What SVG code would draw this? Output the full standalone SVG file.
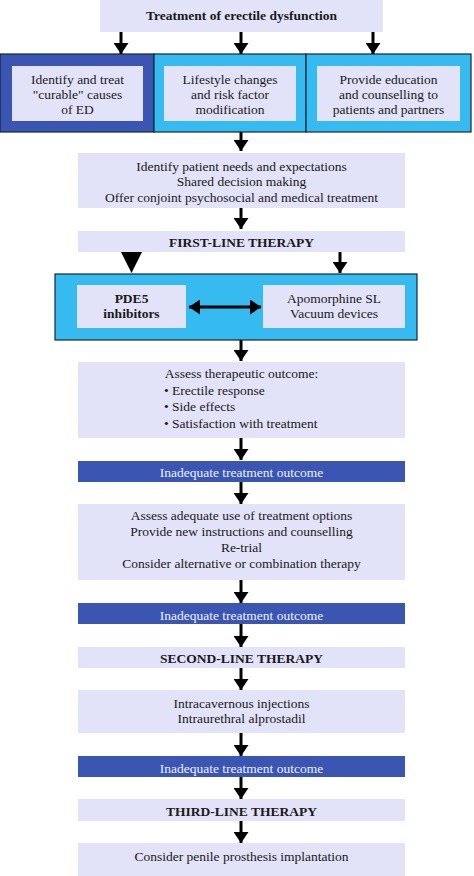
<svg xmlns="http://www.w3.org/2000/svg" width="474" height="876" viewBox="0 0 474 876">
<defs>
<style>
text{font-family:"Liberation Serif","Times New Roman",serif;font-size:13.5px;fill:#1a1a1a;text-anchor:middle}
.b{font-weight:bold}
.w{fill:#eef0ff}
.l{text-anchor:start}
.lav{fill:#e2e2f8}
.dk{fill:#3b55b3}
.cy{fill:#35bbef}
.edge{stroke:#15263a;stroke-width:1.2}
.arr{stroke:#000;stroke-width:3;fill:none;marker-end:url(#ah)}
</style>
<marker id="ah" viewBox="0 0 11 15" markerWidth="11" markerHeight="15" refX="11" refY="7.5" orient="auto-start-reverse" markerUnits="userSpaceOnUse">
<path d="M0,0 L11,7.5 L0,15 z" fill="#000"/>
</marker>
</defs>
<rect width="474" height="876" fill="#fff"/>

<g id="n-top">
<rect class="lav" x="100" y="0" width="283" height="32"/>
<text class="b" x="241.5" y="20">Treatment of erectile dysfunction</text>
</g>

<g id="n-curable">
<rect class="dk edge" x="0" y="54" width="154" height="78"/>
<rect class="lav" x="12" y="66" width="131" height="55"/>
<text x="77.5" y="83.5">Identify and treat</text>
<text x="77.5" y="98.5">"curable" causes</text>
<text x="77.5" y="113.5">of ED</text>
</g>
<g id="n-lifestyle">
<rect class="cy edge" x="154" y="54" width="152" height="78"/>
<rect class="lav" x="164" y="66" width="132" height="55"/>
<text x="230" y="83.5">Lifestyle changes</text>
<text x="230" y="98.5">and risk factor</text>
<text x="230" y="113.5">modification</text>
</g>
<g id="n-education">
<rect class="cy edge" x="306" y="54" width="165" height="78"/>
<rect class="lav" x="317" y="66" width="143" height="55"/>
<text x="388.5" y="83.5">Provide education</text>
<text x="388.5" y="98.5">and counselling to</text>
<text x="388.5" y="113.5">patients and partners</text>
</g>

<g id="n-needs">
<rect class="lav" x="78" y="153" width="327" height="55"/>
<text x="241.5" y="170.5">Identify patient needs and expectations</text>
<text x="241.5" y="186">Shared decision making</text>
<text x="241.5" y="201.5">Offer conjoint psychosocial and medical treatment</text>
</g>

<g id="n-first">
<rect class="lav" x="78" y="231" width="327" height="21"/>
<text class="b" x="241.5" y="246.5">FIRST-LINE THERAPY</text>
</g>

<g id="n-firstline-box">
<rect class="cy edge" x="55" y="274" width="362" height="66"/>
</g>
<g id="n-pde5">
<rect class="lav" x="77" y="285" width="109" height="43"/>
<text class="b" x="131.5" y="302.5">PDE5</text>
<text class="b" x="131.5" y="317.5">inhibitors</text>
</g>
<g id="n-apo">
<rect class="lav" x="263" y="285" width="142" height="43"/>
<text x="334" y="302.5">Apomorphine SL</text>
<text x="334" y="317.5">Vacuum devices</text>
</g>

<g id="n-assess">
<rect class="lav" x="78" y="362" width="327" height="76"/>
<text x="241.5" y="377.5">Assess therapeutic outcome:</text>
<text class="l" x="164" y="394.5">• Erectile response</text>
<text class="l" x="164" y="411">• Side effects</text>
<text class="l" x="164" y="427.5">• Satisfaction with treatment</text>
</g>

<g id="n-inad1">
<rect class="dk" x="78" y="461" width="327" height="21"/>
<text class="w" x="241.5" y="477">Inadequate treatment outcome</text>
</g>

<g id="n-adequate">
<rect class="lav" x="78" y="504" width="327" height="76"/>
<text x="241.5" y="520">Assess adequate use of treatment options</text>
<text x="241.5" y="536">Provide new instructions and counselling</text>
<text x="241.5" y="551.5">Re-trial</text>
<text x="241.5" y="567.5">Consider alternative or combination therapy</text>
</g>

<g id="n-inad2">
<rect class="dk" x="78" y="603" width="327" height="21"/>
<text class="w" x="241.5" y="619.5">Inadequate treatment outcome</text>
</g>

<g id="n-second">
<rect class="lav" x="78" y="647" width="327" height="21"/>
<text class="b" x="241.5" y="663">SECOND-LINE THERAPY</text>
</g>

<g id="n-intra">
<rect class="lav" x="78" y="690" width="327" height="43"/>
<text x="241.5" y="707.5">Intracavernous injections</text>
<text x="241.5" y="722.5">Intraurethral alprostadil</text>
</g>

<g id="n-inad3">
<rect class="dk" x="78" y="756" width="327" height="21"/>
<text class="w" x="241.5" y="772.5">Inadequate treatment outcome</text>
</g>

<g id="n-third">
<rect class="lav" x="78" y="799" width="327" height="22"/>
<text class="b" x="241.5" y="816">THIRD-LINE THERAPY</text>
</g>

<g id="n-prosthesis">
<rect class="lav" x="78" y="843" width="327" height="33"/>
<text x="241.5" y="860.5">Consider penile prosthesis implantation</text>
</g>

<g id="connectors">
<line class="arr" x1="121" y1="32" x2="121" y2="54"/>
<line class="arr" x1="241" y1="32" x2="241" y2="54"/>
<line class="arr" x1="373" y1="32" x2="373" y2="54"/>
<line class="arr" x1="241" y1="132" x2="241" y2="151"/>
<line class="arr" x1="241" y1="208" x2="241" y2="229"/>
<polygon points="121,252 142,252 131.5,273" fill="#000"/>
<line class="arr" x1="340" y1="252" x2="340" y2="273"/>
<line class="arr" x1="189" y1="307" x2="261" y2="307" style="marker-start:url(#ah)"/>
<line class="arr" x1="241" y1="340" x2="241" y2="361"/>
<line class="arr" x1="241" y1="438" x2="241" y2="460"/>
<line class="arr" x1="241" y1="482" x2="241" y2="504"/>
<line class="arr" x1="241" y1="580" x2="241" y2="603"/>
<line class="arr" x1="241" y1="624" x2="241" y2="647"/>
<line class="arr" x1="241" y1="668" x2="241" y2="690"/>
<line class="arr" x1="241" y1="733" x2="241" y2="756"/>
<line class="arr" x1="241" y1="777" x2="241" y2="799"/>
<line class="arr" x1="241" y1="821" x2="241" y2="843"/>
</g>
</svg>
